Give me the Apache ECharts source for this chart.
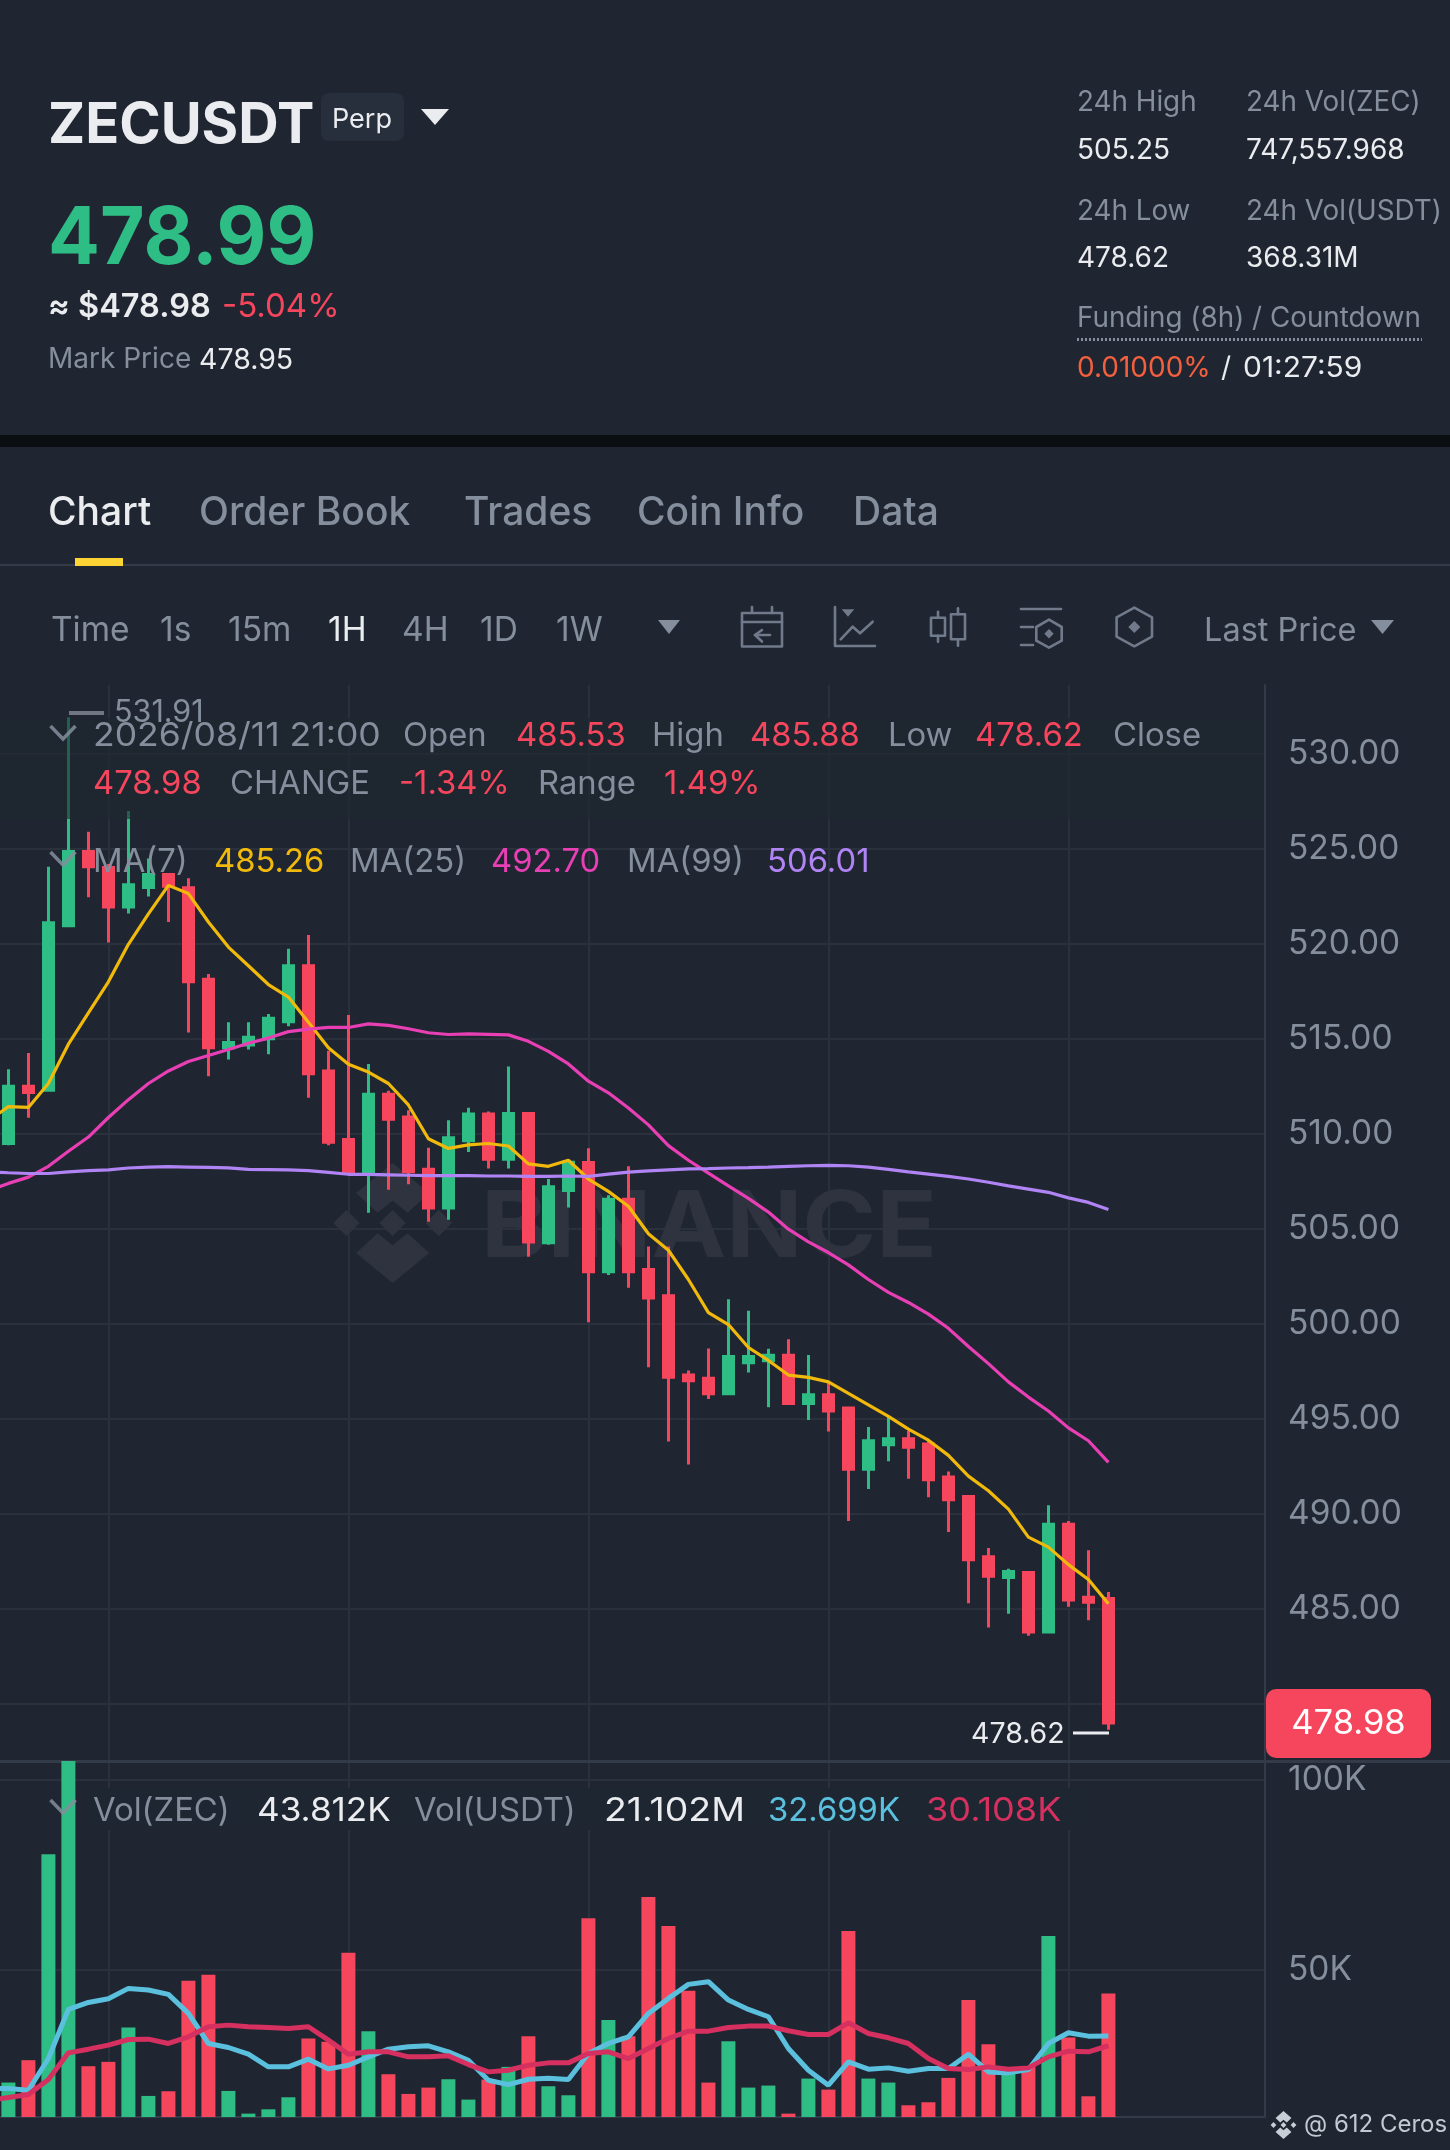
<!DOCTYPE html>
<html><head><meta charset="utf-8">
<style>html,body{margin:0;padding:0;background:#1F2631}#c{width:1450px;height:2150px}</style>
<script src="https://cdn.jsdelivr.net/npm/echarts@6/dist/echarts.min.js"></script>
</head><body><div id="c"></div>
<script>
const opens=[509.49,512.5,512.3,520.96,524.87,524.02,521.94,522.97,523.65,522.95,518.14,514.53,514.68,515.0,515.9,518.85,513.31,509.7,508.0,512.08,510.88,508.14,506.1,509.64,511.05,508.66,511.07,504.26,507.01,508.49,502.74,506.55,502.86,501.48,497.3,497.13,496.31,497.95,498.05,498.34,495.8,496.26,495.56,492.34,493.63,493.94,493.67,491.93,490.9,487.73,486.64,486.91,483.77,489.44,485.6,485.53];
const closes=[512.5,512.18,521.11,524.87,524.06,521.94,523.12,523.65,523.03,518.0,514.53,514.81,515.09,516.09,518.85,513.16,509.55,508.0,512.08,510.77,508.0,506.1,509.79,511.05,508.66,511.07,504.31,507.21,508.5,502.74,506.55,502.74,501.36,497.18,497.0,496.31,498.27,498.27,498.34,495.8,496.26,495.41,492.34,493.84,493.94,493.5,491.79,490.73,487.58,486.71,486.96,483.77,489.44,485.46,485.34,478.98];
const lows=[509.4,510.85,512.3,520.96,522.46,520.07,521.6,522.5,521.15,515.34,513.03,513.91,514.44,514.19,515.66,511.9,509.4,508.0,505.85,507.05,507.35,505.37,505.47,509.04,508.18,508.17,503.53,504.16,506.12,500.08,502.57,501.89,497.71,493.8,492.59,496.04,496.31,497.44,495.61,495.8,494.93,494.33,489.61,491.3,492.76,491.84,490.87,489.03,485.29,484.01,484.73,483.57,483.77,485.1,484.39,478.62];
const highs=[513.4,514.25,524.06,531.91,525.9,524.2,527.0,524.5,523.65,523.46,518.42,515.88,515.88,516.31,519.74,520.47,514.38,516.26,513.68,512.27,511.24,509.27,510.71,511.37,511.18,513.54,511.1,507.62,508.6,509.24,506.77,508.29,504.07,504.07,497.54,498.7,501.29,500.68,498.68,499.18,498.36,496.94,495.56,494.57,495.08,494.35,493.92,492.22,490.97,488.19,487.1,486.91,490.44,489.61,488.07,485.88];
// moving averages: first entry is the candle just left of the visible area
const ma7=[510.68,511.43,511.39,512.65,514.72,516.37,518.0,519.98,521.58,523.08,522.65,521.15,519.83,518.85,517.86,517.2,515.88,514.53,513.66,513.25,512.65,511.52,509.74,509.23,509.42,509.49,509.36,508.42,508.29,508.61,507.62,506.97,506.19,504.74,503.87,502.33,500.59,499.96,498.75,498.07,497.3,497.18,496.94,496.33,495.73,495.12,494.45,493.87,493.07,491.98,491.21,490.24,488.77,488.24,487.32,486.54,485.26];
const ma25=[507.01,507.39,507.72,508.29,509.08,509.83,510.86,511.8,512.65,513.31,513.81,514.12,514.44,514.77,515.04,515.38,515.51,515.6,515.6,515.79,515.71,515.53,515.32,515.23,515.26,515.24,515.21,514.87,514.34,513.68,512.77,512.16,511.36,510.47,509.38,508.61,507.93,507.26,506.6,505.88,504.98,504.31,503.75,503.1,502.33,501.65,501.12,500.51,499.76,498.8,497.9,496.94,496.14,495.41,494.52,493.84,492.7];
const ma99=[508.0,507.95,507.91,507.91,508.0,508.06,508.1,508.2,508.25,508.27,508.25,508.23,508.21,508.13,508.12,508.1,508.06,507.97,507.87,507.86,507.84,507.82,507.8,507.8,507.8,507.78,507.78,507.76,507.76,507.78,507.76,507.88,507.98,508.05,508.1,508.15,508.17,508.2,508.22,508.25,508.29,508.32,508.34,508.32,508.25,508.13,508.0,507.88,507.76,507.62,507.45,507.26,507.09,506.92,506.63,506.39,506.01];
const volumes=[20440,26315,80439,105439,24736,25877,34911,16927,18156,47192,48770,18245,12279,13419,16577,32017,31140,54561,33945,22629,17454,19120,21314,15963,21227,24561,32631,19472,17105,63596,36842,32631,69210,61578,44560,20437,31315,19120,19647,12280,21490,18590,60262,21490,20437,14473,15263,21665,42105,30525,23245,24561,58947,32280,16840,43812];
const volMaA=[18860,18860,18420,26754,39648,41490,42455,45175,44736,43596,38596,30701,29648,27894,24561,24561,26578,24034,25000,27193,29210,29824,30087,28508,26315,21052,19912,21314,21578,21227,28069,30701,32456,38596,42543,46228,46930,42105,39648,37719,29385,23684,19735,25877,23947,24298,23420,24122,24122,27894,23245,22982,23859,30701,33508,32631,32699];
const volMaB=[15789,16491,17280,21227,28245,29210,30263,31754,31842,30701,32456,35087,35526,35087,34911,34649,35087,31578,27894,28508,28508,27193,27193,27456,25175,23245,23684,25000,25613,25613,28069,28508,26754,29385,32017,33947,33947,34911,35264,35264,34035,33070,33070,36140,33333,32193,30701,26754,24122,23859,24561,23947,24298,27193,28684,28508,30108];
const priceTicks=[480,485,490,495,500,505,510,515,520,525,530];
const priceLabels=[485,490,495,500,505,510,515,520,525,530];
const volTicks=[50000,100000];
const timeGrid=[5,17,29,41,53];
const tabs=[['Chart',48],['Order Book',199],['Trades',464],['Coin Info',637],['Data',853]];
const frames=[['Time',51],['1s',160],['15m',228],['1H',328],['4H',402],['1D',480],['1W',556]];

const BG='#1F2631',GRID='#2A313D',DIV='#343B48',GRAY='#848E9C',WHITE='#EAECEF',GREEN='#2EBD85',RED='#F6465D';
const FONT='Inter';
const g=[];
function T(text,x,y,size,fill,o){o=o||{};const e={type:'text',x:x,y:y,z:o.z||60,silent:true,style:{text:text,fill:fill,font:(o.weight||400)+' '+size+'px '+(o.font||FONT),textAlign:o.align||'left',textVerticalAlign:'middle',opacity:o.opacity==null?1:o.opacity}};if(o.scaleX){e.scaleX=o.scaleX;}g.push(e);}
function R(x,y,w,h,fill,o){o=o||{};g.push({type:'rect',z:o.z||55,silent:true,shape:{x:x,y:y,width:w,height:h,r:o.r||0},style:{fill:fill,opacity:o.opacity==null?1:o.opacity}});}
function P(pts,fill,o){o=o||{};g.push({type:'polygon',z:o.z||55,silent:true,shape:{points:pts},style:{fill:fill}});}
function L(pts,stroke,w,o){o=o||{};g.push({type:'polyline',z:o.z||60,silent:true,shape:{points:pts},style:{stroke:stroke,lineWidth:w,fill:'none',lineCap:o.cap||'butt',lineJoin:o.join||'miter',opacity:o.opacity==null?1:o.opacity,lineDash:o.dash||null}});}
function logo(cx,cy,rx,ry,fill,z){
  const q=(a,b)=>[cx+a*rx,cy+b*ry];
  const d=(a,b,h)=>P([q(a,b-h),q(a+h,b),q(a,b+h),q(a-h,b)],fill,{z:z});
  d(0,0,.22);d(-.77,0,.22);d(.77,0,.22);
  P([q(0,-1),q(.61,-.5),q(.25,-.17),q(0,-.37),q(-.25,-.17),q(-.61,-.5)],fill,{z:z});
  P([q(0,1),q(.61,.5),q(.25,.17),q(0,.37),q(-.25,.17),q(-.61,.5)],fill,{z:z});
}
// page blocks
R(0,435,1450,12,'#0B0E11');
// header
T('ZECUSDT',48,126,56,WHITE,{weight:700});
R(321,93,83,48,'#282F3C',{r:8});
T('Perp',332,120,27,WHITE);
P([[421,109],[449,109],[435,125]],WHITE);
T('478.99',48,240,80,GREEN,{weight:700,scaleX:.96});
T('≈ $478.98',48,307,32.5,WHITE,{weight:600});
T('-5.04%',222,307,33,RED,{weight:400});
T('Mark Price',48,360,28,GRAY);
T('478.95',199,360,28.5,WHITE);
const RS=27.8;
T('24h High',1077,103,RS,GRAY);T('24h Vol(ZEC)',1246,103,RS,GRAY);
T('505.25',1077,151,28,WHITE);T('747,557.968',1246,151,28,WHITE);
T('24h Low',1077,212,RS,GRAY);T('24h Vol(USDT)',1246,212,RS,GRAY);
T('478.62',1077,259,28,WHITE);T('368.31M',1246,259,28,WHITE);
T('Funding (8h) / Countdown',1077,319,RS,GRAY);
L([[1077,339.5],[1422,339.5]],GRAY,3,{dash:[2,2]});
T('0.01000%',1077,369,28,'#F4603E');T('/',1221,369,28,WHITE);T('01:27:59',1243,369,28,WHITE,{scaleX:1.07});
// tabs
tabs.forEach((t,i)=>T(t[0],t[1],513,39,i===0?WHITE:GRAY,{weight:500}));
R(0,564,1450,2,DIV);
R(75,558,48,8,'#FCD535',{z:56});
// toolbar
frames.forEach(t=>T(t[0],t[1],631,33.5,t[0]==='1H'?WHITE:GRAY));
P([[658,620],[680,620],[669,634]],GRAY);
T('Last Price',1204,631,32.5,GRAY);
P([[1371,620],[1394,620],[1382.5,634]],GRAY);
const IC='#707A8A',IL={cap:'round',join:'round'};
L([[742,613],[782,613],[782,646.5],[742,646.5],[742,613]],IC,2.6,IL);
L([[742,622],[782,622]],IC,2.6,IL);L([[752,607],[752,613]],IC,2.6,IL);L([[772,607],[772,613]],IC,2.6,IL);
L([[770,635],[755,635]],IC,2.6,IL);L([[762,630],[755,635],[762,641.5]],IC,2.6,IL);
L([[835,607],[835,646],[875,646]],IC,2.6,IL);L([[840.7,639.3],[852.7,626.7],[860,633.3],[872.7,621.7]],IC,2.6,IL);
P([[841.7,609.3],[854.3,609.3],[848,616.7]],IC,{z:60});
L([[931,617.7],[945,617.7],[945,635.7],[931,635.7],[931,617.7]],IC,2.6,IL);
L([[938,611.7],[938,617.7]],IC,2.6,IL);L([[938,635.7],[938,641.7]],IC,2.6,IL);
L([[951,614.3],[965,614.3],[965,639.3],[951,639.3],[951,614.3]],IC,2.6,IL);
L([[958,608.3],[958,614.3]],IC,2.6,IL);L([[958,639.3],[958,645.7]],IC,2.6,IL);
L([[1021,609],[1061,609]],IC,2.6,IL);L([[1021,627],[1033,627]],IC,2.6,IL);L([[1021,645],[1033,645]],IC,2.6,IL);
L([[1049,619.7],[1061.7,627],[1061.7,640.7],[1049,647.7],[1036.3,640.7],[1036.3,627],[1049,619.7]],IC,2.6,IL);
P([[1049,629],[1053.7,633.7],[1049,638.4],[1044.3,633.7]],IC,{z:60});
L([[1134.3,607.7],[1152,617.3],[1152,636.7],[1134.3,646.3],[1116.6,636.7],[1116.6,617.3],[1134.3,607.7]],IC,2.6,IL);
P([[1134.3,621],[1140.3,627],[1134.3,633],[1128.3,627]],IC,{z:60});
// watermark
logo(392.6,1223,60,60,'#2E333F',1);
T('BINANCE',481,1229,92,'#2E333F',{weight:700,z:1,scaleX:1.087});
// legend backdrops
R(0,718,1264,101,BG,{opacity:.62});
R(86,1788,1000,42,BG,{opacity:.95});
// high / low markers
L([[69,713],[104,713]],'#6F7783',4,{z:56});
T('531.91',114,713,30.5,GRAY,{z:56});
L([[1073,1733],[1109,1733]],WHITE,3);
T('478.62',971,1734,28.5,WHITE);
// legends
const chev=(x,y)=>L([[x,y],[x+12.5,y+13],[x+25,y]],GRAY,3.5,{opacity:.85});
chev(50.5,726);chev(50.5,852);chev(50.5,1800);
const LS=32.8;
[['2026/08/11 21:00',93,GRAY,1.083],['Open',403,GRAY],['485.53',516,RED],['High',652,GRAY],['485.88',750,RED],['Low',888,GRAY],['478.62',975,RED],['Close',1113,GRAY]].forEach(a=>T(a[0],a[1],736,LS,a[2],{scaleX:a[3]}));
[['478.98',93,RED],['CHANGE',230,GRAY],['-1.34%',399,RED],['Range',538,GRAY],['1.49%',664,RED]].forEach(a=>T(a[0],a[1],784,LS,a[2]));
[['MA(7)',93,GRAY],['485.26',214,'#F0B90B'],['MA(25)',350,GRAY],['492.70',491,'#E83FB5'],['MA(99)',627,GRAY],['506.01',767,'#B084F5']].forEach(a=>T(a[0],a[1],862,LS,a[2]));
[['Vol(ZEC)',93,GRAY],['43.812K',257,WHITE,1.07],['Vol(USDT)',414,GRAY],['21.102M',604,WHITE,1.14],['32.699K',768,'#5BC0DE'],['30.108K',926,'#D5305F',1.1]].forEach(a=>T(a[0],a[1],1811,LS,a[2],{scaleX:a[3]}));
// pane dividers
R(0,1760,1450,3,DIV,{z:2});
R(0,2116,1265,2,DIV,{z:2});
// price tag
R(1266,1689,165,69,RED,{r:10});
T('478.98',1348.5,1724,34.5,'#FFFFFF',{align:'center'});
// credit
logo(1283.5,2125,13,14,'#C9CED6',60);
T('@ 612 Ceros',1304,2125,24,'#C4C9D1');

const axisX=(gi)=>({type:'value',gridIndex:gi,min:-0.42,max:62.83,axisLine:{show:false},axisLabel:{show:false},
  axisTick:{show:false,customValues:timeGrid},splitLine:{show:true,lineStyle:{color:GRID,width:2}}});
const candleData=opens.map((o,i)=>[i,o,closes[i],lows[i],highs[i]]);
const lineData=a=>a.map((v,i)=>[i-1,v]);
const volData=volumes.map((v,i)=>({value:[i,v],itemStyle:{color:closes[i]>=opens[i]?GREEN:RED}}));
const ln=(name,d,c,w,xi,yi)=>({name:name,type:'line',data:lineData(d),xAxisIndex:xi,yAxisIndex:yi,symbol:'none',showSymbol:false,smooth:false,lineStyle:{color:c,width:w},z:4,animation:false});

const chart=echarts.init(document.getElementById('c'),null,{width:1450,height:2150});
chart.setOption({
  animation:false,backgroundColor:BG,
  grid:[{left:0,top:685,width:1265,height:1076,show:false},{left:0,top:1761,width:1265,height:356,show:false}],
  xAxis:[axisX(0),axisX(1)],
  yAxis:[
   {type:'value',gridIndex:0,position:'right',min:476.98,max:533.63,
    axisLine:{show:true,onZero:false,lineStyle:{color:DIV,width:2}},
    axisTick:{show:false,customValues:priceTicks},
    axisLabel:{margin:23,color:GRAY,fontSize:33.5,fontFamily:FONT,customValues:priceLabels,formatter:v=>v.toFixed(2)},
    splitLine:{show:true,lineStyle:{color:GRID,width:2}}},
   {type:'value',gridIndex:1,position:'right',min:11394,max:104900,
    axisLine:{show:true,onZero:false,lineStyle:{color:DIV,width:2}},
    axisTick:{show:false,customValues:volTicks},
    axisLabel:{margin:23,color:GRAY,fontSize:33.5,fontFamily:FONT,customValues:volTicks,formatter:v=>(v/1000)+'K'},
    splitLine:{show:true,lineStyle:{color:GRID,width:2}}}
  ],
  graphic:{elements:g},
  series:[
   {name:'Price',type:'candlestick',xAxisIndex:0,yAxisIndex:0,data:candleData,encode:{x:0,y:[1,2,3,4]},barWidth:11,z:3,
    itemStyle:{color:GREEN,color0:RED,borderColor:GREEN,borderColor0:RED,borderWidth:3}},
   ln('MA(7)',ma7,'#F0B90B',3.2,0,0),ln('MA(25)',ma25,'#E83FB5',3.2,0,0),ln('MA(99)',ma99,'#B084F5',3.2,0,0),
   {name:'Vol',type:'bar',xAxisIndex:1,yAxisIndex:1,data:volData,barWidth:14,z:3},
   ln('VolMA5',volMaA,'#5BC0DE',5,1,1),ln('VolMA10',volMaB,'#D5305F',5,1,1)
  ]
});
</script></body></html>
